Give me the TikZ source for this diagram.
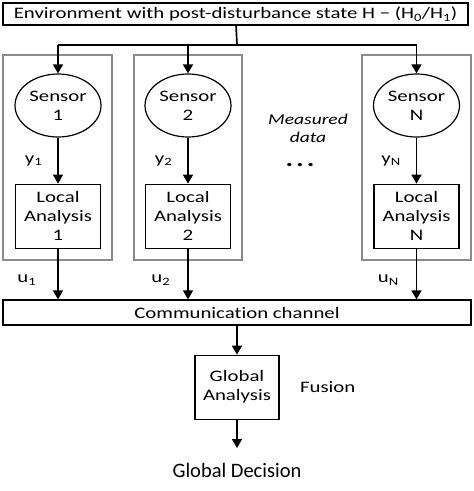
\documentclass[tikz,border=0pt]{standalone}
\usepackage{fontspec}
\setmainfont{Carlito}[FakeStretch=1.3, Ligatures=NoCommon]
\newfontfamily\plainfont{Carlito}
\usepackage{tikz}
\usetikzlibrary{shapes, arrows.meta, positioning}

\begin{document}
\begin{tikzpicture}[x=1pt, y=-1pt, font=\fontsize{16}{19}\selectfont,
    box/.style={rectangle, draw, line width=1.2pt, align=center, inner sep=1pt},
    sensorbox/.style={ellipse, draw, line width=1.2pt, align=center, minimum width=86pt, minimum height=63pt, inner sep=0pt},
    colbox/.style={rectangle, draw=black!45, line width=1.3pt, minimum width=109pt, minimum height=205pt},
    arr/.style={-{Triangle[width=10pt,length=9pt]}, line width=1.7pt},
    lbl/.style={inner sep=0pt}]
        \useasboundingbox (0,0) rectangle (474,491);

        % environment and distribution bus
        \node (env) [box, minimum width=465pt, minimum height=22pt] at (235.5,14) {Environment with post-disturbance state H − (H\textsubscript{0}/H\textsubscript{1})};
        \coordinate (bus) at (237,45);

        % columns
        \node (col1) [colbox] at (57.5,157.5) {};
        \node (col2) [colbox, minimum width=108pt] at (188,157.5) {};
        \node (colN) [colbox] at (416.5,157.5) {};

        \node (s1) [sensorbox] at (58,105.5) {Sensor\\1};
        \node (s2) [sensorbox] at (188,105.5) {Sensor\\2};
        \node (sN) [sensorbox] at (416.5,105.5) {Sensor\\N};

        \node (la1) [box, minimum width=85pt, minimum height=64pt, below=46pt of s1] {Local\\Analysis\\1};
        \node (la2) [box, minimum width=85pt, minimum height=64pt, below=46pt of s2] {Local\\Analysis\\2};
        \node (laN) [box, minimum width=85pt, minimum height=64pt, below=46pt of sN] {Local\\Analysis\\N};

        \node (meas) [align=center, font=\fontsize{15}{18}\selectfont\itshape] at (308,128) {Measured\\data};
        \node (dots) [inner sep=0pt, anchor=base, font=\fontsize{22}{22}\selectfont\bfseries] at (300,166) {.\hspace{3pt}.\hspace{3pt}.};

        % fusion centre
        \node (comm) [box, minimum width=468pt, minimum height=25pt] at (237,312.5) {Communication channel};
        \node (glob) [box, minimum width=84pt, minimum height=64pt, below=29pt of comm] {Global\\Analysis};
        \node (fusion) [right=17pt of glob] {Fusion};
        \node (dec) [font=\plainfont\fontsize{20.5}{22}\selectfont] at (237,470) {Global Decision};
        \coordinate (decin) at (237,448);

        \draw [line width=1.7pt] (env) -- (bus);
        \draw [line width=1.7pt] (bus -| s1) -- (bus -| sN);
        \draw [arr] (bus -| s1) -- (s1);
        \draw [arr] (bus -| s2) -- (s2);
        \draw [arr] (bus -| sN) -- (sN);

        \draw [arr] (s1) -- node [lbl, left=15pt] {y\textsubscript{1}} (la1);
        \draw [arr] (s2) -- node [lbl, left=15pt] {y\textsubscript{2}} (la2);
        \draw [arr] (sN) -- node [lbl, left=15pt] {y\textsubscript{N}} (laN);

        \draw [arr] (la1) -- node [lbl, pos=0.62, left=21pt] {u\textsubscript{1}} (la1 |- comm.north);
        \draw [arr] (la2) -- node [lbl, pos=0.62, left=17pt] {u\textsubscript{2}} (la2 |- comm.north);
        \draw [arr] (laN) -- node [lbl, pos=0.62, left=17pt] {u\textsubscript{N}} (laN |- comm.north);

        \draw [arr] (comm) -- (glob);
        \draw [arr] (glob) -- (decin);
    \end{tikzpicture}
\end{document}
